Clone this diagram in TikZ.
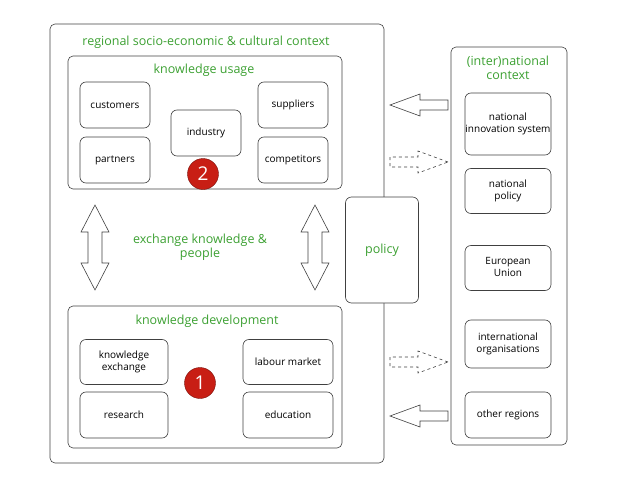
\documentclass[tikz,border=0pt]{standalone}
\usepackage{fontspec}
\setmainfont{Open Sans}
\definecolor{grn}{RGB}{60,160,50}
\definecolor{rd}{RGB}{200,30,20}
\newcommand{\twol}[2]{\begin{tabular}{@{}c@{}}#1\\#2\end{tabular}}
\begin{document}
\begin{tikzpicture}[x=1pt,y=-1pt,
 box/.style={draw=black!75,rounded corners=5pt,line width=0.6pt},
 sb/.style={box,rounded corners=6pt,fill=white,font=\fontsize{10}{11.5}\selectfont,inner sep=0pt},
 ttl/.style={text=grn,font=\fontsize{12.5}{14}\selectfont},
 num/.style={circle,fill=rd,draw=rd!60!black,text=white,minimum size=31pt,inner sep=0pt,font=\fontsize{19}{19}\selectfont},
 barr/.style={draw=black!75,line width=0.6pt,fill=white},
 darr/.style={barr,dashed}]
\useasboundingbox (0,0) rectangle (638,479);
\draw[box] (50,24) rectangle (384,463);
\node[ttl] (t0) at (206,42) {regional socio-economic \& cultural context};
\draw[box] (68,56) rectangle (342,189);
\node[ttl] (t1) at (204,70) {knowledge usage};
\node[sb,minimum width=70pt,minimum height=46pt] (cu) at (115,105) {customers};
\node[sb,minimum width=70pt,minimum height=46pt] (su) at (293,105) {suppliers};
\node[sb,minimum width=70pt,minimum height=46pt] (in) at (206,133) {industry};
\node[sb,minimum width=70pt,minimum height=46pt] (pa) at (115,160) {partners};
\node[sb,minimum width=70pt,minimum height=46pt] (co) at (293,160) {competitors};
\node[num] (n2) at (203,174) {2};
\foreach \x in {95,315}{
 \draw[barr] (\x,205) -- (\x+14,232) -- (\x+7,232) -- (\x+7,263) -- (\x+14,263) -- (\x,290) -- (\x-14,263) -- (\x-7,263) -- (\x-7,232) -- (\x-14,232) -- cycle;}
\node[ttl] (ex) at (200,248) {\twol{exchange knowledge \&}{people}};
\draw[box] (68,306) rectangle (342,448);
\node[ttl] (t2) at (207,321) {knowledge development};
\node[sb,minimum width=88pt,minimum height=45pt] (ke) at (124,362) {\twol{knowledge}{exchange}};
\node[sb,minimum width=90pt,minimum height=45pt] (lm) at (288,362) {labour market};
\node[sb,minimum width=88pt,minimum height=46pt] (re) at (124,415) {research};
\node[sb,minimum width=90pt,minimum height=46pt] (ed) at (288,415) {education};
\node[num] (n1) at (200,383) {1};
\node[sb,minimum width=73pt,minimum height=106pt,text=grn,font=\fontsize{12.5}{14}\selectfont] (po) at (382,250) {policy};
\draw[box] (451,47) rectangle (567,445);
\node[ttl] (t3) at (508,70) {\twol{(inter)national}{context}};
\node[sb,minimum width=86pt,minimum height=62pt] (nis) at (508,124) {\twol{national}{innovation system}};
\node[sb,minimum width=86pt,minimum height=45pt] (np) at (508,191) {\twol{national}{policy}};
\node[sb,minimum width=86pt,minimum height=45pt] (eu) at (508,268) {\twol{European}{Union}};
\node[sb,minimum width=86pt,minimum height=48pt] (io) at (508,344) {\twol{international}{organisations}};
\node[sb,minimum width=86pt,minimum height=46pt] (or) at (508,415) {other regions};
\foreach \y in {105,416}{
 \draw[barr] (390,\y) -- (420,\y-11) -- (420,\y-5) -- (448,\y-5) -- (448,\y+5) -- (420,\y+5) -- (420,\y+11) -- cycle;}
\foreach \y in {162,362}{
 \draw[darr] (448,\y) -- (418,\y-11) -- (418,\y-5) -- (390,\y-5) -- (390,\y+5) -- (418,\y+5) -- (418,\y+11) -- cycle;}
\end{tikzpicture}
\end{document}
